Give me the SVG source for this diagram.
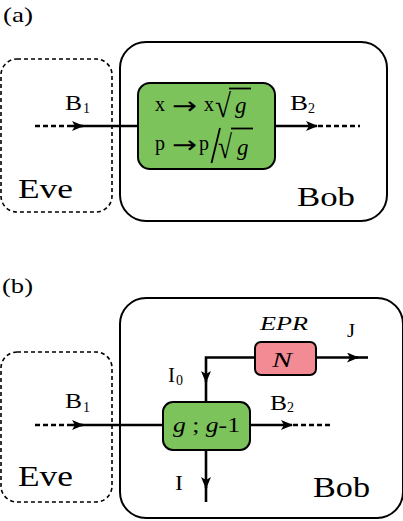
<svg xmlns="http://www.w3.org/2000/svg" width="403" height="521" viewBox="0 0 403 521" font-family="'Liberation Serif', 'DejaVu Serif', serif">
<style>
.box{fill:none;stroke:#000;stroke-width:2}
.eve{fill:none;stroke:#000;stroke-width:1.6;stroke-dasharray:4,3}
.green{fill:#7dc35c;stroke:#000;stroke-width:2}
.pink{fill:#f28b94;stroke:#000;stroke-width:2}
.ln{stroke:#000;stroke-width:2.6;fill:none}
.thin{stroke:#000;stroke-width:1.8;fill:none}
.dash{stroke:#000;stroke-width:2.6;fill:none;stroke-dasharray:5,3}
.lab{font-size:20px}
.sub{font-size:14px}
.arr{font-family:"DejaVu Sans",sans-serif;font-size:24px}
</style>
<defs>
<marker id="ah" viewBox="0 0 12 10" refX="11" refY="5" markerWidth="12" markerHeight="10" markerUnits="userSpaceOnUse" orient="auto">
<path d="M0,0 L12,5 L0,10 L3,5 z" fill="#000"/>
</marker>
</defs>
<text x="3" y="21.5" font-size="22" textLength="30" lengthAdjust="spacingAndGlyphs">(a)</text>
<g id="a-eve"><rect class="eve" x="1" y="59" width="111" height="153" rx="16"/><text x="18" y="198" font-size="27" textLength="55" lengthAdjust="spacingAndGlyphs">Eve</text></g>
<g id="a-bob"><rect class="box" x="120" y="42" width="267" height="179" rx="26"/><text x="297" y="206" font-size="28" textLength="58" lengthAdjust="spacingAndGlyphs">Bob</text></g>
<g id="a-conn">
<path class="dash" d="M35,126 H74"/>
<path class="ln" d="M72,126 H83" marker-end="url(#ah)"/>
<path class="ln" d="M80,126 H138"/>
<path class="ln" d="M275,126 H317" marker-end="url(#ah)"/>
<path class="dash" d="M318,126 H360"/>
</g>
<g id="a-amp">
<rect class="green" x="138" y="83" width="137" height="86" rx="12"/>
<text x="155" y="111" font-size="22" textLength="10" lengthAdjust="spacingAndGlyphs">x</text>
<text x="172" y="114" class="arr" textLength="25" lengthAdjust="spacingAndGlyphs">→</text>
<text x="204" y="111" font-size="22" textLength="10" lengthAdjust="spacingAndGlyphs">x</text>
<text x="215" y="117" font-size="33" textLength="16" lengthAdjust="spacingAndGlyphs">√</text>
<path class="thin" d="M229,88.5 H251"/>
<text x="235" y="113" font-size="23" font-style="italic">g</text>
<text x="155" y="150" font-size="22" textLength="10" lengthAdjust="spacingAndGlyphs">p</text>
<text x="172" y="153" class="arr" textLength="25" lengthAdjust="spacingAndGlyphs">→</text>
<text x="199" y="150" font-size="22" textLength="10" lengthAdjust="spacingAndGlyphs">p</text>
<path class="thin" d="M211.5,163 L220,128"/>
<text x="218" y="158" font-size="33" textLength="14" lengthAdjust="spacingAndGlyphs">√</text>
<path class="thin" d="M231,128.5 H253"/>
<text x="237" y="155" font-size="23" font-style="italic">g</text>
</g>
<text x="65" y="110" class="lab"><tspan textLength="17" lengthAdjust="spacingAndGlyphs">B</tspan><tspan class="sub" x="83" y="113">1</tspan></text>
<text x="290" y="110" class="lab"><tspan textLength="18" lengthAdjust="spacingAndGlyphs">B</tspan><tspan class="sub" x="308" y="113">2</tspan></text>
<text x="2" y="292.5" font-size="22" textLength="31" lengthAdjust="spacingAndGlyphs">(b)</text>
<g id="b-eve"><rect class="eve" x="1" y="352" width="111" height="150" rx="16"/><text x="18" y="486" font-size="29" textLength="55" lengthAdjust="spacingAndGlyphs">Eve</text></g>
<g id="b-bob"><rect class="box" x="120" y="298" width="283" height="220" rx="26"/><text x="313" y="497" font-size="29" textLength="57" lengthAdjust="spacingAndGlyphs">Bob</text></g>
<g id="b-conn">
<path class="dash" d="M35,425 H74"/>
<path class="ln" d="M72,425 H83" marker-end="url(#ah)"/>
<path class="ln" d="M80,425 H163"/>
<path class="ln" d="M250,425 H292" marker-end="url(#ah)"/>
<path class="dash" d="M293,425 H333"/>
<path class="ln" d="M255,357.5 H206 V382" marker-end="url(#ah)"/>
<path class="ln" d="M206,380 V402"/>
<path class="ln" d="M316,357.5 H358" marker-end="url(#ah)"/>
<path class="ln" d="M356,357.5 H368"/>
<path class="ln" d="M206,450 V488" marker-end="url(#ah)"/>
<path class="ln" d="M206,486 V502"/>
</g>
<g id="b-amp">
<rect class="green" x="163" y="402" width="87" height="48" rx="10"/>
<text x="173" y="432" font-size="22" textLength="67" lengthAdjust="spacingAndGlyphs"><tspan font-style="italic">g</tspan> ; <tspan font-style="italic">g</tspan>-1</text>
</g>
<g id="b-epr">
<rect class="pink" x="255" y="342" width="61" height="33" rx="6"/>
<text x="272" y="367" font-size="22" font-style="italic" textLength="20" lengthAdjust="spacingAndGlyphs">N</text>
<text x="260" y="330" font-size="18" font-style="italic" textLength="48" lengthAdjust="spacingAndGlyphs">EPR</text>
</g>
<text x="347" y="337" font-size="18" textLength="8" lengthAdjust="spacingAndGlyphs">J</text>
<text x="168" y="382" class="lab"><tspan textLength="7" lengthAdjust="spacingAndGlyphs">I</tspan><tspan class="sub" x="176" y="385">0</tspan></text>
<text x="65" y="408" class="lab"><tspan textLength="17" lengthAdjust="spacingAndGlyphs">B</tspan><tspan class="sub" x="83" y="412">1</tspan></text>
<text x="270" y="410" class="lab"><tspan textLength="17" lengthAdjust="spacingAndGlyphs">B</tspan><tspan class="sub" x="287" y="412">2</tspan></text>
<text x="175" y="490" class="lab" textLength="8" lengthAdjust="spacingAndGlyphs">I</text>
</svg>
